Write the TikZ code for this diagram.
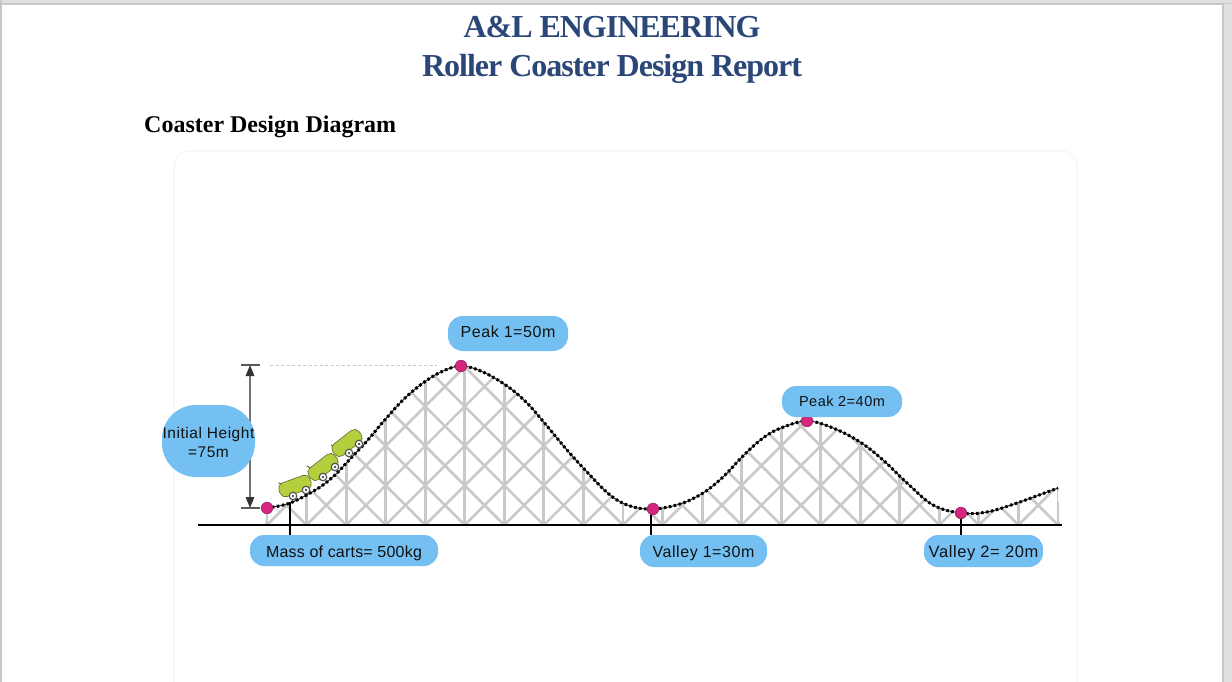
\documentclass[tikz,border=0pt]{standalone}
\usepackage{fontspec}
\setmainfont{Liberation Serif}
\setsansfont{Liberation Sans}
\newfontfamily\tighttitle[LetterSpace=-3.2]{Liberation Serif}
\newfontfamily\pillfont[LetterSpace=3.5]{Liberation Sans}
\newfontfamily\massfont[LetterSpace=1.3]{Liberation Sans}
\usetikzlibrary{arrows.meta,calc}
\definecolor{pill}{HTML}{74C0F2}
\definecolor{titleblue}{HTML}{2B4778}
\definecolor{trestle}{HTML}{C9C9CB}
\definecolor{dotfill}{HTML}{D6247F}
\definecolor{dotline}{HTML}{9A2A6A}
\definecolor{cartfill}{HTML}{B4CF3E}
\definecolor{cartline}{HTML}{5E6B2A}
\definecolor{labeltext}{HTML}{111111}
\newcommand{\trackpts}{(267,508) (290,503) (317,489) (335,475) (350,459) (367,441) (383,422) (403,400) (423,383) (443,371) (462,366) (483,372) (507,386) (527,403) (547,426) (567,450) (587,472) (610,495) (630,506) (653,509) (680,504) (703,493) (723,477) (743,456) (763,438) (781,428) (807,421) (833,428) (860,442) (883,460) (907,483) (933,505) (961,513) (987,512) (1017,503) (1058,488)}
\tikzset{
  pillbox/.style={fill=pill,rounded corners=14pt,inner sep=0pt,text=labeltext},
  peakdot/.style={circle,draw=dotline,fill=dotfill,line width=0.7pt,minimum size=11.5pt,inner sep=0pt},
  cartbody/.style={draw=cartline,fill=cartfill,line width=0.6pt,rounded corners=5.5pt,minimum width=33pt,minimum height=14.5pt,inner sep=0pt},
  wheel/.style={circle,draw=black!70,fill=white,line width=1.1pt,minimum size=7.5pt,inner sep=0pt},
  hub/.style={circle,fill=black!70,minimum size=2.6pt,inner sep=0pt},
  stem/.style={line width=2.7pt,black},
  tickbar/.style={line width=1.1pt,black!65},
  headline/.style={font=\tighttitle\bfseries\fontsize{32}{36}\selectfont,text=titleblue,anchor=base,inner sep=0pt},
}
\begin{document}
\begin{tikzpicture}[x=1pt,y=-1pt]
\useasboundingbox (0,0) rectangle (1232,682);
\begin{scope}
\clip (0,0) rectangle (1232,682);
\fill[white] (0,0) rectangle (1232,682);
% window edges
\fill[black!12] (0,0) rectangle (1232,3.5);
\fill[black!22] (0,3.5) rectangle (1232,4.7);
\fill[black!22] (0,0) rectangle (2,682);
\fill[black!12] (1222,4) rectangle (1232,682);
\fill[black!22] (1222,4) rectangle (1224,682);
% card
\draw[black!3,line width=1.8pt,rounded corners=16pt] (174,151) rectangle (1077,698);
\end{scope}
% trestle
\begin{scope}
\clip plot[smooth,tension=0.6] coordinates {\trackpts} -- (1060,525) -- (265,525) -- cycle;
\foreach \k in {0,...,20}{
  \draw[trestle,line width=2.9pt] ({267+39.55*\k},525) -- ({267+39.55*\k},340);
}
\foreach \k in {-5,...,25}{
  \draw[trestle,line width=2.6pt] ({267+39.55*\k},525) -- ++(170,-170);
  \draw[trestle,line width=2.6pt] ({267+39.55*\k},525) -- ++(-170,-170);
}
\end{scope}
% track
\draw[black!85,line width=1pt] plot[smooth,tension=0.6] coordinates {\trackpts};
\draw[black,line width=3pt,dash pattern=on 2.5pt off 2.5pt] plot[smooth,tension=0.6] coordinates {\trackpts};
% ground
\coordinate (gl) at (198,525);
\coordinate (gr) at (1062,525);
\draw[black,line width=1.8pt] (gl) -- (gr);
% height dimension
\coordinate (dimtop) at (250,365);
\coordinate (dimbot) at (250,508);
\coordinate (dashstart) at (270,365);
\coordinate (dashend) at (437,365);
\draw[tickbar] ($(dimtop)+(-9,0)$) -- ($(dimtop)+(10,0)$);
\draw[tickbar] ($(dimbot)+(-9,0)$) -- ($(dimbot)+(10,0)$);
\draw[black!55,line width=1.3pt,{Triangle[length=11pt,width=8.5pt,black!80]}-{Triangle[length=11pt,width=8.5pt,black!80]}] (dimtop) -- (dimbot);
\draw[black!22,line width=0.9pt,dash pattern=on 3pt off 2.5pt] (dashstart) -- (dashend);
% carts
\foreach \nm/\cx/\cy/\rot/\ax/\ay/\bx/\by/\px/\py in {a/295/486/20/293/496/306/490/278.3/482.7, b/323/467/38/323/477/335/467/306.7/466, c/347/443/38/349/453/359/444/331/445}{
  \coordinate (antA\nm) at (\px,\py);
  \draw[cartline,line width=1pt] (antA\nm) -- ++(5,2.4);
  \node[cartbody,rotate=\rot] (cart\nm) at (\cx,\cy) {};
  \node[wheel] (w1\nm) at (\ax,\ay) {};
  \node[wheel] (w2\nm) at (\bx,\by) {};
  \node[hub] (h1\nm) at (\ax,\ay) {};
  \node[hub] (h2\nm) at (\bx,\by) {};
}
% labels
\node[pillbox,minimum width=120pt,minimum height=35pt,rounded corners=15pt,font=\pillfont\fontsize{16}{18}\selectfont,text height=8pt,text depth=0pt] (peakA) at (508,333.5) {Peak 1=50m};
\node[pillbox,minimum width=188pt,minimum height=31pt,font=\massfont\fontsize{16}{18}\selectfont,text height=13pt,text depth=0pt] (mass) at (344,550.5) {Mass of carts= 500kg};
\node[pillbox,minimum width=127pt,minimum height=32pt,font=\pillfont\fontsize{16}{18}\selectfont,text height=12pt,text depth=0pt] (valA) at (703.5,551) {Valley 1=30m};
\node[pillbox,minimum width=119pt,minimum height=32pt,font=\pillfont\fontsize{16.5}{18}\selectfont,text height=12pt,text depth=0pt] (valB) at (983.5,551) {Valley 2= 20m};
\node[pillbox,minimum width=93pt,minimum height=72pt,rounded corners=34pt,align=center,font=\pillfont\fontsize{15.5}{18.8}\selectfont] (init) at (208.5,441) {\rule{0pt}{14.5pt}Initial Height\\=75m};
% stems
\coordinate (stemM) at (290,502);
\coordinate (stemA) at (651,509);
\coordinate (stemB) at (961,513);
\draw[stem] (stemM) -- (stemM |- mass.north);
\draw[stem] (stemA) -- (stemA |- valA.north);
\draw[stem] (stemB) -- (stemB |- valB.north);
% dots
\node[peakdot] (d0) at (267,508) {};
\node[peakdot] (d1) at (461,366) {};
\node[peakdot] (d2) at (653,509) {};
\node[peakdot] (d3) at (807,421) {};
\node[peakdot] (d4) at (961,513) {};
\node[pillbox,minimum width=120pt,minimum height=31pt,font=\pillfont\fontsize{14.5}{17}\selectfont,text height=9pt,text depth=0pt] (peakB) at (842,401.5) {Peak 2=40m};
% titles
\node[headline] (t1) at (612,37.5) {A\&L ENGINEERING};
\node[headline] (t2) at (612,77) {Roller Coaster Design Report};
\node[font=\bfseries\fontsize{24}{28}\selectfont,anchor=base west,inner sep=0pt,text=black] (t3) at (144,132.5) {Coaster Design Diagram};
\end{tikzpicture}
\end{document}
